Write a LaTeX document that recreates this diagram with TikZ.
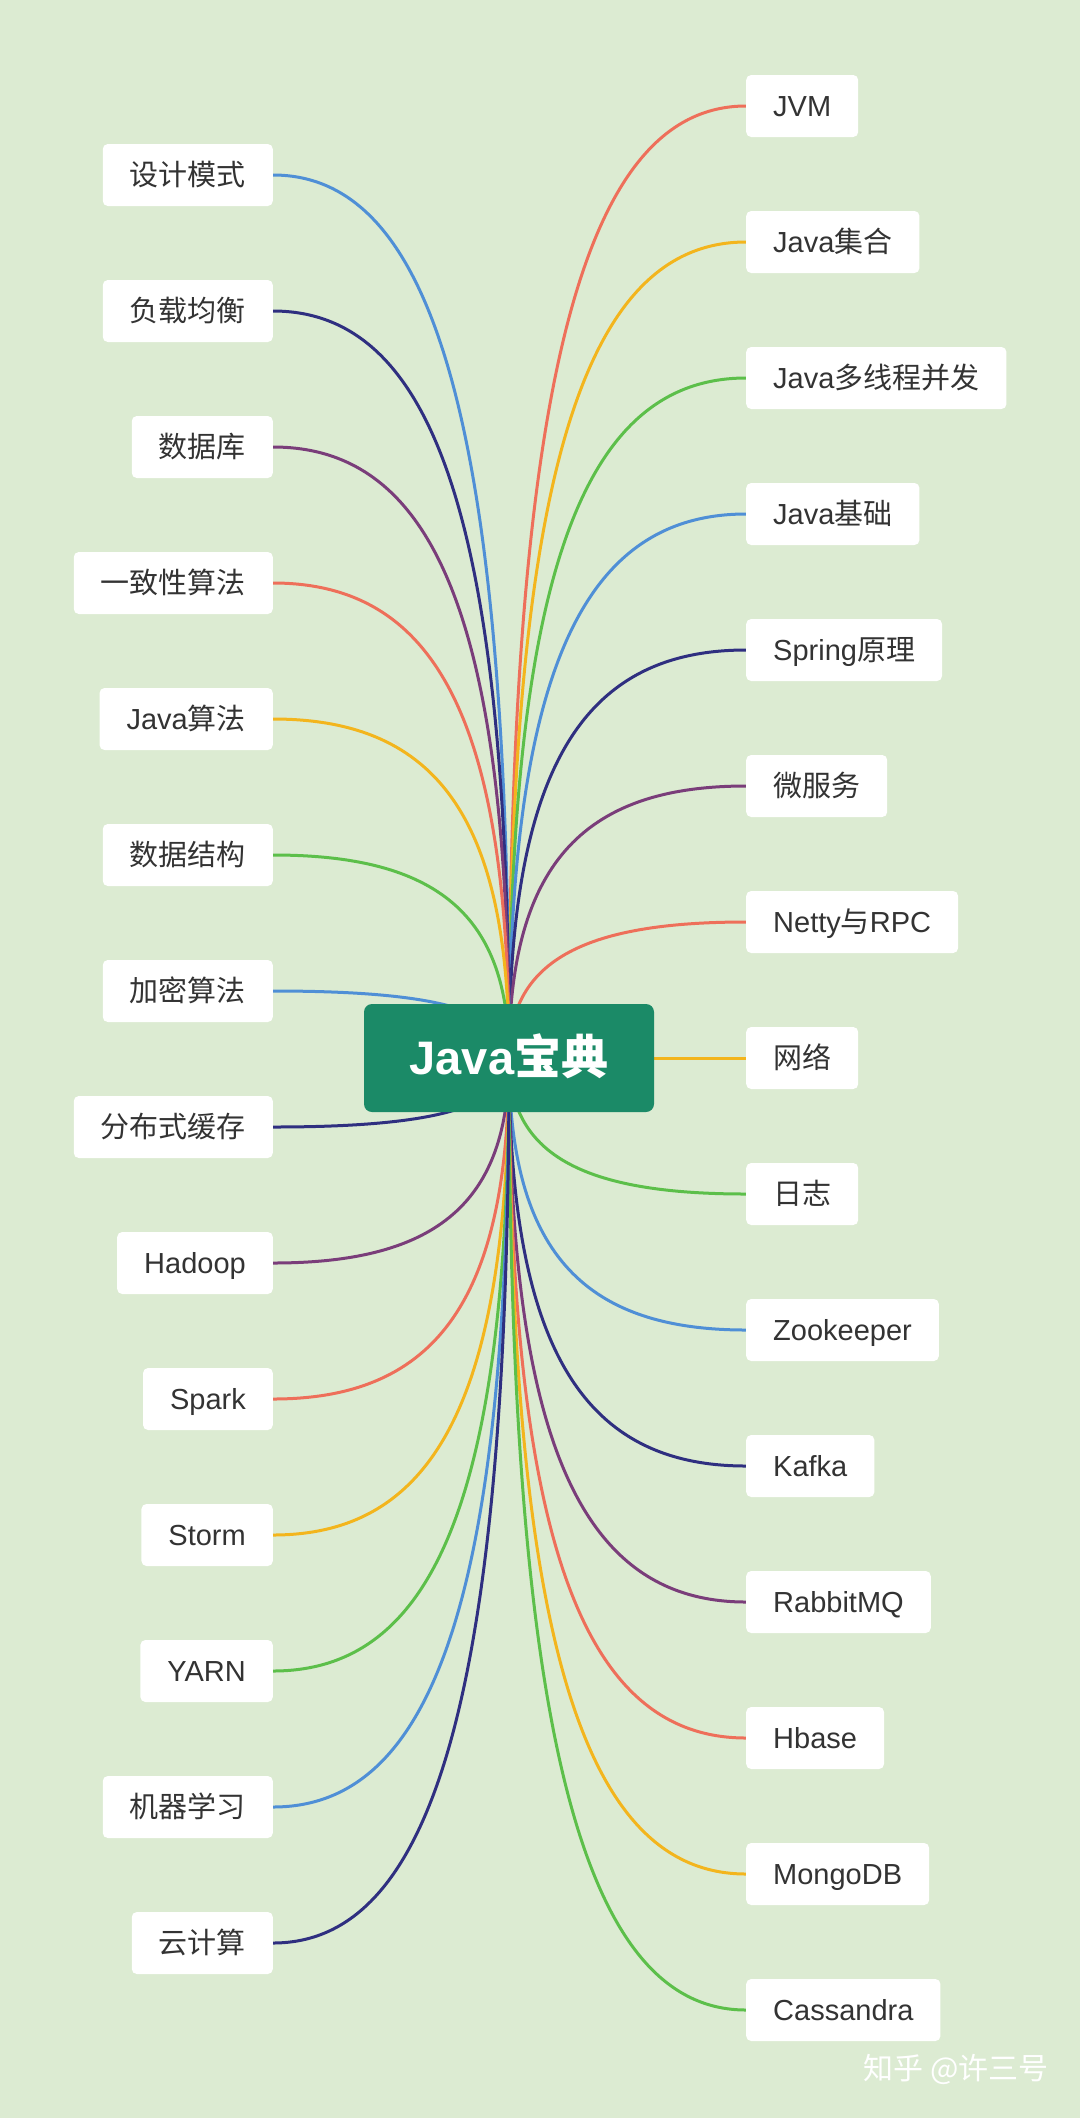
\documentclass[tikz,border=0pt]{standalone}
\usepackage{fontspec}
\setmainfont{Liberation Sans}
\newfontfamily\cjk{Noto Sans CJK SC}
\usepackage{xcolor}
\usepackage{tikz}
\usetikzlibrary{calc}

\pgfdeclarelayer{bg}
\pgfdeclarelayer{links}
\pgfsetlayers{bg,links,main}

\definecolor{bgcol}{HTML}{DCEBD2}
\definecolor{rootcol}{HTML}{1B8A67}
\definecolor{txtcol}{HTML}{333333}
\definecolor{cblue}{HTML}{4F8FD6}
\definecolor{cnavy}{HTML}{2F2F80}
\definecolor{cpurple}{HTML}{7A3D7A}
\definecolor{cred}{HTML}{EE6F5A}
\definecolor{cyellow}{HTML}{F3B51D}
\definecolor{cgreen}{HTML}{5CBF4A}

\begin{document}
\begin{tikzpicture}[x=1pt,y=-1pt]

        \tikzstyle{root}=[fill=rootcol,rounded corners=8pt,minimum width=290pt,minimum height=108pt,
            text=white,font=\fontsize{47}{52}\selectfont\bfseries,text height=37pt,text depth=4pt]
        \tikzstyle{leaf}=[fill=white,rounded corners=5pt,minimum height=62pt,inner xsep=27pt,
            text=txtcol,font=\fontsize{29}{34}\selectfont,text height=24pt,text depth=3.2pt]
        \tikzstyle{branch}=[line width=3pt,line cap=round,
            to path={.. controls ($(\tikztostart)!0.7!(\tikztostart|-\tikztotarget)$)
                and ($(\tikztostart|-\tikztotarget)!0.3!(\tikztotarget)$) .. (\tikztotarget)}]

        %% background
        \begin{pgfonlayer}{bg}
            \fill[bgcol] (0,0) rectangle (1080,2118);
        \end{pgfonlayer}
        \useasboundingbox (0,0) rectangle (1080,2118);

        \node[root] (java) at (509,1058) {Java{\cjk 宝典}};

        %% right side
        \begin{scope}[every node/.append style={leaf,anchor=west}]
            \node (jvm) at (746,106) {JVM};
            \node (jcoll) at (746,242) {Java{\cjk 集合}};
            \node (jthread) at (746,378) {Java{\cjk 多线程并发}};
            \node (jbasic) at (746,514) {Java{\cjk 基础}};
            \node (spring) at (746,650) {Spring{\cjk 原理}};
            \node (micro) at (746,786) {\cjk 微服务};
            \node (netty) at (746,922) {Netty{\cjk 与}RPC};
            \node (net) at (746,1058) {\cjk 网络};
            \node (logs) at (746,1194) {\cjk 日志};
            \node (zk) at (746,1330) {Zookeeper};
            \node (kafka) at (746,1466) {Kafka};
            \node (rabbit) at (746,1602) {RabbitMQ};
            \node (hbase) at (746,1738) {Hbase};
            \node (mongo) at (746,1874) {MongoDB};
            \node (cass) at (746,2010) {Cassandra};
        \end{scope}

        %% left side
        \begin{scope}[every node/.append style={leaf,anchor=east}]
            \node (design) at (273,175) {\cjk 设计模式};
            \node (lb) at (273,311) {\cjk 负载均衡};
            \node (db) at (273,447) {\cjk 数据库};
            \node (consist) at (273,583) {\cjk 一致性算法};
            \node (jalgo) at (273,719) {Java{\cjk 算法}};
            \node (ds) at (273,855) {\cjk 数据结构};
            \node (crypto) at (273,991) {\cjk 加密算法};
            \node (cache) at (273,1127) {\cjk 分布式缓存};
            \node (hadoop) at (273,1263) {Hadoop};
            \node (spark) at (273,1399) {Spark};
            \node (storm) at (273,1535) {Storm};
            \node (yarn) at (273,1671) {YARN};
            \node (ml) at (273,1807) {\cjk 机器学习};
            \node (cloud) at (273,1943) {\cjk 云计算};
        \end{scope}

        %% branches
        \begin{pgfonlayer}{links}
            \draw[branch,cred] (java.center) to (jvm.west);
            \draw[branch,cyellow] (java.center) to (jcoll.west);
            \draw[branch,cgreen] (java.center) to (jthread.west);
            \draw[branch,cblue] (java.center) to (jbasic.west);
            \draw[branch,cnavy] (java.center) to (spring.west);
            \draw[branch,cpurple] (java.center) to (micro.west);
            \draw[branch,cred] (java.center) to (netty.west);
            \draw[branch,cyellow] (java.center) to (net.west);
            \draw[branch,cgreen] (java.center) to (logs.west);
            \draw[branch,cblue] (java.center) to (zk.west);
            \draw[branch,cnavy] (java.center) to (kafka.west);
            \draw[branch,cpurple] (java.center) to (rabbit.west);
            \draw[branch,cred] (java.center) to (hbase.west);
            \draw[branch,cyellow] (java.center) to (mongo.west);
            \draw[branch,cgreen] (java.center) to (cass.west);

            \draw[branch,cblue] (java.center) to (design.east);
            \draw[branch,cnavy] (java.center) to (lb.east);
            \draw[branch,cpurple] (java.center) to (db.east);
            \draw[branch,cred] (java.center) to (consist.east);
            \draw[branch,cyellow] (java.center) to (jalgo.east);
            \draw[branch,cgreen] (java.center) to (ds.east);
            \draw[branch,cblue] (java.center) to (crypto.east);
            \draw[branch,cnavy] (java.center) to (cache.east);
            \draw[branch,cpurple] (java.center) to (hadoop.east);
            \draw[branch,cred] (java.center) to (spark.east);
            \draw[branch,cyellow] (java.center) to (storm.east);
            \draw[branch,cgreen] (java.center) to (yarn.east);
            \draw[branch,cblue] (java.center) to (ml.east);
            \draw[branch,cnavy] (java.center) to (cloud.east);
        \end{pgfonlayer}

        % watermark
        \node[anchor=east,text=white,font=\fontsize{30}{34}\selectfont\cjk] (mark) at (1052,2069) {知乎 @许三号};

\end{tikzpicture}
\end{document}
